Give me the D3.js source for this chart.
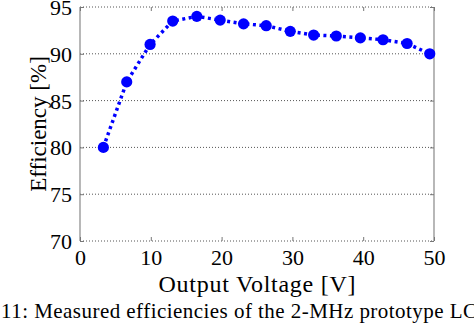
<!DOCTYPE html>
<html>
<head>
<meta charset="utf-8">
<script src="https://cdn.jsdelivr.net/npm/d3@7"></script>
<style>
  body { margin: 0; background: #fff; overflow: hidden; }
</style>
</head>
<body>
<div id="chart"></div>
<script>
var voltage = [3.3, 6.6, 9.9, 13.1, 16.5, 19.8, 23.1, 26.3, 29.7, 33.0, 36.2, 39.6, 42.8, 46.2, 49.4];
var efficiency = [80.0, 87.0, 91.0, 93.5, 94.0, 93.6, 93.2, 93.0, 92.4, 92.0, 91.9, 91.7, 91.5, 91.1, 90.0];
var xTicks = [0, 10, 20, 30, 40, 50];
var yTicks = [70, 75, 80, 85, 90, 95];

var serif = "'Liberation Serif', 'Times New Roman', Times, serif";
var W = 474, H = 324;
var margin = {top: 7, right: 40, bottom: 83, left: 80},
    width = W - margin.left - margin.right,
    height = H - margin.top - margin.bottom;

var svg = d3.select("#chart").append("svg")
    .attr("width", W).attr("height", H)
    .attr("font-family", serif);

var g = svg.append("g")
    .attr("transform", "translate(" + margin.left + "," + margin.top + ")");

var x = d3.scaleLinear().domain([0, 50]).range([0, width]);
var y = d3.scaleLinear().domain([70, 95]).range([height, 0]);

// horizontal dotted grid (incl. top and bottom border)
g.selectAll(".grid")
    .data(yTicks)
    .enter().append("line")
    .attr("x1", 0).attr("x2", width)
    .attr("y1", function(d) { return y(d); })
    .attr("y2", function(d) { return y(d); })
    .attr("stroke", "#555")
    .attr("stroke-width", 1)
    .attr("stroke-dasharray", "1,2");

// left/right borders
g.append("line").attr("x1", 0).attr("x2", 0).attr("y1", 0).attr("y2", height)
    .attr("stroke", "#888").attr("stroke-width", 1.2);
g.append("line").attr("x1", width).attr("x2", width).attr("y1", 0).attr("y2", height)
    .attr("stroke", "#888").attr("stroke-width", 1.2);

// inward tick marks
var xAxisB = g.append("g").attr("transform", "translate(0," + height + ")")
    .call(d3.axisBottom(x).tickValues(xTicks).tickSize(-4).tickPadding(9).tickFormat(d3.format("d")));
var xAxisT = g.append("g")
    .call(d3.axisTop(x).tickValues(xTicks).tickSize(-4).tickFormat(""));
var yAxisL = g.append("g")
    .call(d3.axisLeft(y).tickValues(yTicks).tickSize(-4).tickPadding(8));
var yAxisR = g.append("g").attr("transform", "translate(" + width + ",0)")
    .call(d3.axisRight(y).tickValues(yTicks).tickSize(-4).tickFormat(""));

[xAxisB, xAxisT, yAxisL, yAxisR].forEach(function(a) {
    a.attr("font-family", serif).attr("font-size", 22);
    a.select(".domain").remove();
    a.selectAll(".tick line").attr("stroke", "#777");
    a.selectAll("text").attr("fill", "#000");
});
yAxisL.selectAll("text").attr("dy", "0.34em");
xAxisB.selectAll("text").attr("dy", "0.7em");

// series line
var line = d3.line()
    .x(function(d, i) { return x(voltage[i]); })
    .y(function(d) { return y(d); });

g.append("path")
    .datum(efficiency)
    .attr("d", line)
    .attr("fill", "none")
    .attr("stroke", "#0000ff")
    .attr("stroke-width", 3.5)
    .attr("stroke-dasharray", "3,3.5");

g.selectAll(".pt")
    .data(efficiency)
    .enter().append("circle")
    .attr("cx", function(d, i) { return x(voltage[i]); })
    .attr("cy", function(d) { return y(d); })
    .attr("r", 5.6)
    .attr("fill", "#0000ff");

// axis labels
svg.append("text")
    .attr("x", margin.left + width / 2)
    .attr("y", 292)
    .attr("text-anchor", "middle")
    .attr("font-size", 24)
    .attr("textLength", 197)
    .text("Output Voltage [V]");

svg.append("text")
    .attr("transform", "translate(46," + (margin.top + height / 2) + ") rotate(-90)")
    .attr("text-anchor", "middle")
    .attr("font-size", 23)
    .text("Efficiency [%]");

// caption (cropped in the original)
svg.append("text")
    .attr("x", 1)
    .attr("y", 318)
    .attr("font-size", 21)
    .attr("textLength", 476)
    .text("11: Measured efficiencies of the 2-MHz prototype LC");
</script>
</body>
</html>
